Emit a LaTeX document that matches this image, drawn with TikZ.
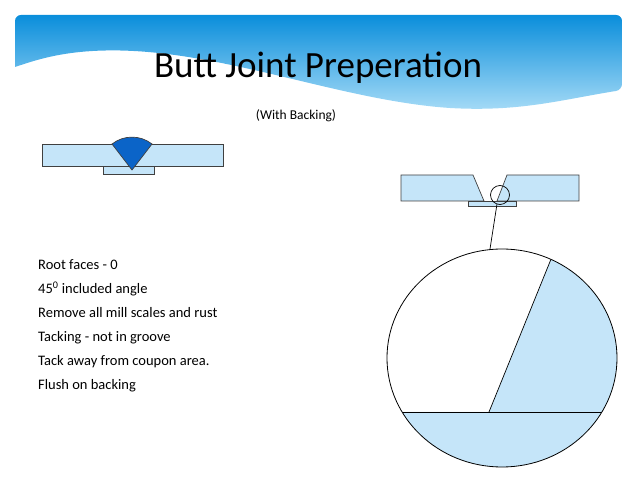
\documentclass[tikz,border=0pt]{standalone}
\usepackage{fontspec}
\setmainfont{Carlito}
\definecolor{plate}{HTML}{C5E5F9}
\definecolor{weld}{HTML}{0B64C8}
\definecolor{ban1}{HTML}{0A8EDB}
\definecolor{ban2}{HTML}{A8DCF7}
\begin{document}
\begin{tikzpicture}[x=1pt,y=-1pt,
  part/.style={draw=black!75,fill=plate,line width=0.7pt},
  txt/.style={anchor=west,inner sep=0pt,font=\fontsize{14.5}{16}\selectfont}]
\useasboundingbox (0,0) rectangle (638,478);
% banner
\shade[top color=ban1,bottom color=ban2,rounded corners=6]
  (15,67) -- (15,15) -- (622,15) -- (622,90)
  [sharp corners] .. controls (560,100) and (520,112) .. (450,108)
  .. controls (330,100) and (200,40) .. (80,52)
  .. controls (50,55) and (30,62) .. (15,67) -- cycle;
\node[font=\fontsize{37}{40}\selectfont,inner sep=0pt] (title) at (318,68) {Butt Joint Preperation};
\node[font=\fontsize{13.5}{15}\selectfont,inner sep=0pt] (sub) at (296,116) {(With Backing)};
% left joint
\draw[part] (103,166) rectangle (154,174);
\draw[part] (42,144) rectangle (223,166);
\draw[draw=black!75,fill=weld,line width=0.7pt] (132,170) -- (112,144) arc[start angle=-128,end angle=-52,radius=32.5] -- cycle;
% right joint
\draw[part] (468,201) rectangle (516,206);
\draw[part] (401,175) -- (473,175) -- (484,201) -- (401,201) -- cycle;
\draw[part] (507,175) -- (579,175) -- (579,201) -- (497,201) -- cycle;
\draw[black,line width=0.7pt] (500,195) circle[radius=9.5];
\coordinate (c1) at (497,204);
\coordinate (c2) at (490,249);
\draw[black,line width=0.7pt] (c1) -- (c2);
% big circle
\begin{scope}
\clip (502,358) ellipse[x radius=115,y radius=109];
\fill[plate] (300,412) -- (489,412) -- (575,200) -- (700,200) -- (700,500) -- (300,500) -- cycle;
\draw[black,line width=0.7pt] (300,412) -- (700,412);
\draw[black,line width=0.7pt] (489,412) -- (575,200);
\end{scope}
\draw[black,line width=0.8pt] (502,358) ellipse[x radius=115,y radius=109];
% text
\node[txt] (t1) at (38,265) {Root faces - 0};
\node[txt] (t2) at (38,289) {45\textsuperscript{0} included angle};
\node[txt] (t3) at (38,313) {Remove all mill scales and rust};
\node[txt] (t4) at (38,338) {Tacking - not in groove};
\node[txt] (t5) at (38,362) {Tack away from coupon area.};
\node[txt] (t6) at (38,386) {Flush on backing};
\end{tikzpicture}
\end{document}
